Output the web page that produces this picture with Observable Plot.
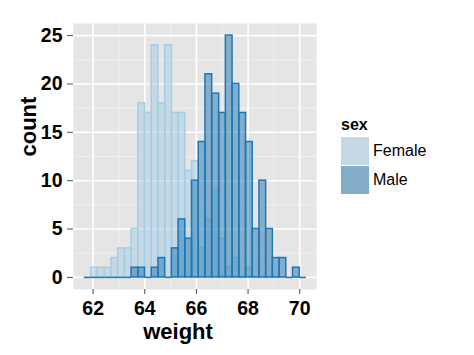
<!DOCTYPE html>
<html>
<head>
<meta charset="utf-8">
<script src="https://cdn.jsdelivr.net/npm/d3@7"></script>
<script src="https://cdn.jsdelivr.net/npm/@observablehq/plot@0.6"></script>
<style>
  body { margin: 0; background: white; }
  #wrap { position: relative; width: 474px; height: 355px; font-family: "Liberation Sans", Arial, sans-serif; }
  #legend { position: absolute; left: 341px; top: 116px; color: black; }
  #legend .title { font-weight: bold; font-size: 16px; height: 21px; line-height: 18px; }
  #legend .item { display: flex; align-items: center; height: 28.5px; }
  #legend .key { width: 28px; height: 28px; background: #e5e5e5; position: relative; }
  #legend .key span { position: absolute; inset: 0; }
  #legend .lab { margin-left: 4px; font-size: 16px; }
</style>
</head>
<body>
<div id="wrap"></div>
<script>
// ---- data ----
const sexes = ["Female", "Male"];
const sexColors = ["#A6CEE3", "#1F78B4"];
const binEdges = [61.66, 61.92, 62.18, 62.45, 62.71, 62.97, 63.23, 63.49, 63.75, 64.01,
  64.27, 64.53, 64.79, 65.05, 65.31, 65.57, 65.83, 66.09, 66.35, 66.61,
  66.88, 67.14, 67.40, 67.66, 67.92, 68.18, 68.44, 68.70, 68.96, 69.22,
  69.48, 69.74, 70.00, 70.26];
const femaleCounts = [0,1,1,1,2,3,3,5,18,17,24,18,24,17,17,11,12,3,6,9,4,1,2,0,1,0,0,0,0,0,0,0,0];
const maleCounts   = [0,0,0,0,0,0,0,1,1,0,1,2,0,3,6,4,10,14,21,19,17,25,20,17,14,5,10,5,2,2,0,1,0];
const xTicks = [62, 64, 66, 68, 70];
const xMinor = [63, 65, 67, 69];
const yTicks = [0, 5, 10, 15, 20, 25];
const yMinor = [2.5, 7.5, 12.5, 17.5, 22.5];

function rows(sex, counts) {
  return counts.map((c, k) => ({sex, x1: binEdges[k], x2: binEdges[k + 1], count: c}));
}
const female = rows("Female", femaleCounts);
const male = rows("Male", maleCounts);

function histMarks(data, color) {
  return [
    Plot.rectY(data.filter(d => d.count > 0), {
      x1: "x1", x2: "x2", y1: 0, y2: "count",
      fill: color, fillOpacity: 0.5, stroke: color, strokeWidth: 1.5
    }),
    Plot.ruleY(data.filter(d => d.count === 0), {
      x1: "x1", x2: "x2", y: "count", stroke: color, strokeWidth: 1.5
    })
  ];
}

const font = "'Liberation Sans', Arial, sans-serif";
const chart = Plot.plot({
  width: 474,
  height: 355,
  marginLeft: 73,
  marginRight: 158,
  marginTop: 23,
  marginBottom: 66,
  style: {fontFamily: font, background: "white", overflow: "visible"},
  x: {domain: [61.24, 70.65]},
  y: {domain: [-1.25, 26.25]},
  marks: [
    Plot.frame({fill: "#E5E5E5", stroke: "none"}),
    Plot.gridX(xMinor, {stroke: "#F2F2F2", strokeOpacity: 1, strokeWidth: 0.8}),
    Plot.gridY(yMinor, {stroke: "#F2F2F2", strokeOpacity: 1, strokeWidth: 0.8}),
    Plot.gridX(xTicks, {stroke: "white", strokeOpacity: 1, strokeWidth: 1.6}),
    Plot.gridY(yTicks, {stroke: "white", strokeOpacity: 1, strokeWidth: 1.6}),
    ...histMarks(female, sexColors[0]),
    ...histMarks(male, sexColors[1]),
    Plot.axisX({ticks: xTicks, tickSize: 5, tickPadding: 7, fontSize: 19.5, fontWeight: "bold",
      color: "black", stroke: "#4d4d4d", label: null}),
    Plot.axisY({ticks: yTicks, tickSize: 6, tickPadding: 5, fontSize: 19.5, fontWeight: "bold",
      color: "black", stroke: "#4d4d4d", label: null}),
    Plot.text(["weight"], {frameAnchor: "bottom", dx: -17, dy: 49, lineAnchor: "bottom",
      fontSize: 22, fontWeight: "bold", fill: "black"}),
    Plot.text(["count"], {frameAnchor: "left", dx: -38, rotate: -90, lineAnchor: "bottom",
      fontSize: 22, fontWeight: "bold", fill: "black"})
  ]
});

const wrap = document.getElementById("wrap");
wrap.appendChild(chart);
const legend = document.createElement("div");
legend.id = "legend";
legend.innerHTML = `<div class="title">sex</div>` + sexes.map((s, i) =>
  `<div class="item"><div class="key"><span style="background:${sexColors[i]};opacity:0.5"></span></div><div class="lab">${s}</div></div>`
).join("");
wrap.appendChild(legend);
</script>
</body>
</html>
